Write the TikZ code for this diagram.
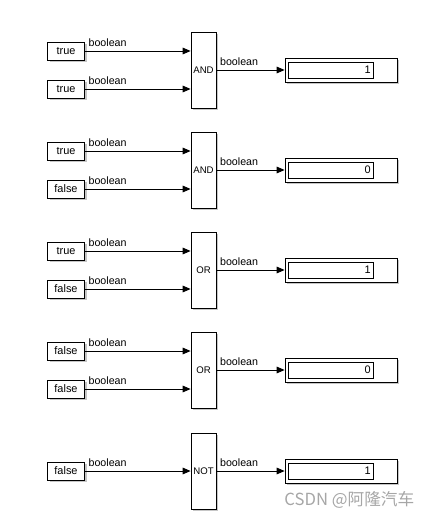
\documentclass[tikz,border=0pt]{standalone}
\usepackage{fontspec}
\setmainfont{Liberation Sans}
\newfontfamily\cjk{Noto Sans CJK SC}
\usetikzlibrary{arrows.meta,shadows}

\tikzset{
  blk/.style={draw, fill=white, line width=0.6pt,
    drop shadow={shadow xshift=1.5pt, shadow yshift=-1.5pt, opacity=0.45}},
  const/.style={blk, minimum width=27.75pt, minimum height=13.5pt, inner sep=0pt,
    font=\fontsize{8.2}{9}\selectfont},
  logic/.style={blk, minimum width=18.75pt, minimum height=57pt, inner sep=0pt,
    font=\fontsize{7.2}{8}\selectfont},
  disp/.style={blk, minimum width=84pt, minimum height=18pt, inner sep=0pt},
  val/.style={draw, fill=white, line width=0.6pt, minimum height=12pt, text width=60pt,
    align=right, inner sep=2pt, anchor=west, font=\fontsize{8.2}{9}\selectfont},
  sig/.style={line width=0.6pt, -{Triangle[length=6pt,width=5pt]}},
  typ/.style={font=\fontsize{8}{9}\selectfont, inner sep=0pt, pos=0, above right,
    xshift=2.5pt, yshift=3pt}
}

\begin{document}
\begin{tikzpicture}[x=0.75pt, y=-0.75pt]
        \useasboundingbox (0,0) rectangle (431,520);

        % true AND true
        \node[const] (c1a) at (66,51) {true};
        \node[const] (c1b) at (66,89) {true};
        \node[logic] (and1) at (203.5,70) {AND};
        \node[disp] (d1) at (341,70) {};
        \node[val] (v1) at ([xshift=2.25pt]d1.west) {1};
        \draw[sig] (c1a.east) -- node[typ] {boolean} (c1a.east -| and1.west);
        \draw[sig] (c1b.east) -- node[typ] {boolean} (c1b.east -| and1.west);
        \draw[sig] (and1.east) -- node[typ] {boolean} (d1.west);

        % true AND false
        \node[const] (c2a) at (66,151) {true};
        \node[const] (c2b) at (66,189) {false};
        \node[logic] (and2) at (203.5,170) {AND};
        \node[disp] (d2) at (341,170) {};
        \node[val] (v2) at ([xshift=2.25pt]d2.west) {0};
        \draw[sig] (c2a.east) -- node[typ] {boolean} (c2a.east -| and2.west);
        \draw[sig] (c2b.east) -- node[typ] {boolean} (c2b.east -| and2.west);
        \draw[sig] (and2.east) -- node[typ] {boolean} (d2.west);

        % true OR false
        \node[const] (c3a) at (66,251) {true};
        \node[const] (c3b) at (66,289) {false};
        \node[logic] (or3) at (203.5,270) {OR};
        \node[disp] (d3) at (341,270) {};
        \node[val] (v3) at ([xshift=2.25pt]d3.west) {1};
        \draw[sig] (c3a.east) -- node[typ] {boolean} (c3a.east -| or3.west);
        \draw[sig] (c3b.east) -- node[typ] {boolean} (c3b.east -| or3.west);
        \draw[sig] (or3.east) -- node[typ] {boolean} (d3.west);

        % false OR false
        \node[const] (c4a) at (66,351) {false};
        \node[const] (c4b) at (66,389) {false};
        \node[logic] (or4) at (203.5,370) {OR};
        \node[disp] (d4) at (341,370) {};
        \node[val] (v4) at ([xshift=2.25pt]d4.west) {0};
        \draw[sig] (c4a.east) -- node[typ] {boolean} (c4a.east -| or4.west);
        \draw[sig] (c4b.east) -- node[typ] {boolean} (c4b.east -| or4.west);
        \draw[sig] (or4.east) -- node[typ] {boolean} (d4.west);

        % NOT false
        \node[const] (c5) at (66,471) {false};
        \node[logic] (not5) at (203.5,471) {NOT};
        \node[disp] (d5) at (341,471) {};
        \node[val] (v5) at ([xshift=2.25pt]d5.west) {1};
        \draw[sig] (c5.east) -- node[typ] {boolean} (not5.west);
        \draw[sig] (not5.east) -- node[typ] {boolean} (d5.west);

        \node[anchor=east, text=black!35, font=\cjk\fontsize{12.5}{14}\selectfont] (wm) at (419,500) {CSDN @阿隆汽车};
    \end{tikzpicture}
\end{document}
